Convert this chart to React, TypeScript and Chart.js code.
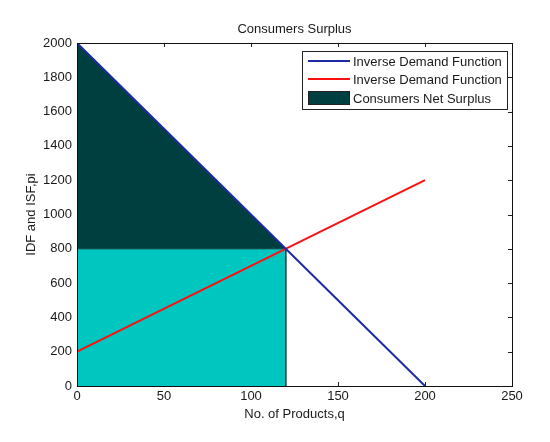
import React, { useEffect, useRef } from "react";
import { Chart, registerables } from "chart.js";

Chart.register(...registerables);

// Data
const quantities = [0, 200];
const demandPrices = [2000, 0];
const supplyPrices = [200, 1200];
const equilibriumQ = 120;
const equilibriumP = 800;
const surplusQ = [0, equilibriumQ];
const surplusTop = [2000, equilibriumP];
const xTicks = [0, 50, 100, 150, 200, 250];
const yTicks = [0, 200, 400, 600, 800, 1000, 1200, 1400, 1600, 1800, 2000];
const legendLabels = ["Inverse Demand Function", "Inverse Demand Function", "Consumers Net Surplus"];
const chartTitle = "Consumers Surplus";
const xTitle = "No. of Products,q";
const yTitle = "IDF and ISF,pi";

const FONT = '13px "Liberation Sans", Arial, sans-serif';
const TEXT = "#1a1a1a";
const BLUE = "#1c2aa6";
const RED = "#ff1010";
const DARK = "#003f3f";
const CYAN = "#00c6c0";

const framePlugin = {
  id: "matlabFrame",
  beforeDatasetsDraw(chart: any) {
    const { ctx, chartArea: a, scales } = chart;
    ctx.save();
    ctx.strokeStyle = "#222";
    ctx.lineWidth = 1;
    const tl = 4;
    ctx.beginPath();
    xTicks.forEach((v) => {
      const px = Math.round(scales.x.getPixelForValue(v)) + 0.5;
      ctx.moveTo(px, a.bottom);
      ctx.lineTo(px, a.bottom - tl);
      ctx.moveTo(px, a.top);
      ctx.lineTo(px, a.top + tl);
    });
    yTicks.forEach((v) => {
      const py = Math.round(scales.y.getPixelForValue(v)) + 0.5;
      ctx.moveTo(a.left, py);
      ctx.lineTo(a.left + tl, py);
      ctx.moveTo(a.right, py);
      ctx.lineTo(a.right - tl, py);
    });
    ctx.stroke();
    ctx.restore();
  },
  afterDatasetsDraw(chart: any) {
    const { ctx, chartArea: a } = chart;
    ctx.save();
    // box
    ctx.strokeStyle = "#111";
    ctx.lineWidth = 1;
    ctx.strokeRect(a.left + 0.5, a.top + 0.5, a.right - a.left, a.bottom - a.top);

    // legend
    const lw = 205;
    const lh = 58;
    const lx = a.right - 5 - lw;
    const ly = a.top + 8;
    ctx.fillStyle = "#fff";
    ctx.fillRect(lx, ly, lw, lh);
    ctx.strokeStyle = "#222";
    ctx.strokeRect(lx + 0.5, ly + 0.5, lw, lh);
    const rows = [ly + 10, ly + 28, ly + 47];
    ctx.lineWidth = 2;
    ctx.strokeStyle = BLUE;
    ctx.beginPath();
    ctx.moveTo(lx + 6, rows[0]);
    ctx.lineTo(lx + 48, rows[0]);
    ctx.stroke();
    ctx.strokeStyle = RED;
    ctx.beginPath();
    ctx.moveTo(lx + 6, rows[1]);
    ctx.lineTo(lx + 48, rows[1]);
    ctx.stroke();
    ctx.fillStyle = DARK;
    ctx.fillRect(lx + 6, rows[2] - 7, 42, 14);
    ctx.lineWidth = 1;
    ctx.strokeStyle = "#222";
    ctx.strokeRect(lx + 6.5, rows[2] - 6.5, 41, 13);
    ctx.fillStyle = TEXT;
    ctx.font = FONT;
    ctx.textBaseline = "middle";
    ctx.textAlign = "left";
    legendLabels.forEach((t, i) => ctx.fillText(t, lx + 51, rows[i] + 1));
    ctx.restore();
  },
  afterDraw(chart: any) {
    const { ctx, chartArea: a } = chart;
    ctx.save();
    ctx.fillStyle = TEXT;
    ctx.font = FONT;
    ctx.textAlign = "center";
    ctx.textBaseline = "middle";
    const cx = (a.left + a.right) / 2;
    ctx.fillText(chartTitle, cx, a.top - 14);
    ctx.fillText(xTitle, cx, a.bottom + 28);
    ctx.translate(31, (a.top + a.bottom) / 2);
    ctx.rotate(-Math.PI / 2);
    ctx.fillText(yTitle, 0, 0);
    ctx.restore();
  },
};

export default function App() {
  const ref = useRef<HTMLCanvasElement | null>(null);
  useEffect(() => {
    document.body.style.margin = "0";
    const canvas = ref.current!;
    const toPts = (xs: number[], ys: number[]) => xs.map((x, i) => ({ x, y: ys[i] }));
    const chart = new Chart(canvas, {
      type: "scatter",
      data: {
        datasets: [
          {
            label: "Gross",
            data: [
              { x: 0, y: equilibriumP },
              { x: equilibriumQ, y: equilibriumP },
              { x: equilibriumQ, y: 0 },
            ],
            showLine: true,
            fill: "origin",
            backgroundColor: CYAN,
            borderColor: "#1d3d3d",
            borderWidth: 1,
            pointRadius: 0,
            order: 4,
          },
          {
            label: legendLabels[2],
            data: toPts(surplusQ, surplusTop),
            showLine: true,
            fill: { value: equilibriumP },
            backgroundColor: DARK,
            borderColor: "#1d3d3d",
            borderWidth: 1,
            pointRadius: 0,
            order: 3,
          },
          {
            label: legendLabels[1],
            data: toPts(quantities, supplyPrices),
            showLine: true,
            borderColor: RED,
            borderWidth: 2,
            pointRadius: 0,
            fill: false,
            order: 2,
          },
          {
            label: legendLabels[0],
            data: toPts(quantities, demandPrices),
            showLine: true,
            borderColor: BLUE,
            borderWidth: 2,
            pointRadius: 0,
            fill: false,
            order: 1,
          },
        ],
      },
      options: {
        animation: false,
        responsive: false,
        devicePixelRatio: 1,
        layout: { padding: { left: 0, right: 38, top: 43, bottom: 0 } },
        plugins: {
          legend: { display: false },
          title: { display: false },
          tooltip: { enabled: false },
        },
        scales: {
          x: {
            type: "linear",
            min: 0,
            max: 250,
            afterBuildTicks: (s: any) => {
              s.ticks = xTicks.map((v) => ({ value: v }));
            },
            afterFit: (s: any) => {
              s.height = 56;
            },
            grid: { display: false, drawTicks: false, tickLength: 0 },
            border: { display: false },
            ticks: {
              padding: 3,
              color: TEXT,
              font: { family: '"Liberation Sans", Arial, sans-serif', size: 13 },
              maxRotation: 0,
              callback: (v: any) => String(v),
            },
          },
          y: {
            type: "linear",
            min: 0,
            max: 2000,
            afterBuildTicks: (s: any) => {
              s.ticks = yTicks.map((v) => ({ value: v }));
            },
            afterFit: (s: any) => {
              s.width = 77;
            },
            grid: { display: false, drawTicks: false, tickLength: 0 },
            border: { display: false },
            ticks: {
              padding: 5,
              color: TEXT,
              font: { family: '"Liberation Sans", Arial, sans-serif', size: 13 },
              callback: (v: any) => String(v),
            },
          },
        },
      },
      plugins: [framePlugin],
    } as any);
    return () => chart.destroy();
  }, []);
  return <canvas ref={ref} width={550} height={442} style={{ display: "block", width: 550, height: 442 }} />;
}
